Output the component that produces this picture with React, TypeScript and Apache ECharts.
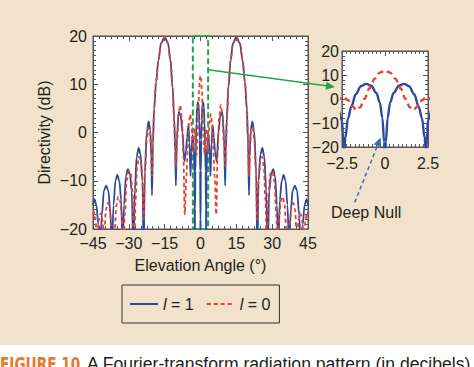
import React, { useEffect, useRef } from "react";
import * as echarts from "echarts";

// Elevation angle (deg) vs directivity (dB)
const patternL1: [number, number][] = [
  [-45, -15], [-44.4, -13.8], [-43.6, -15], [-42.8, -19], [-42, -25], [-41.3, -17], [-40.4, -12], [-39.5, -11],
  [-38.6, -12], [-37.8, -16], [-37.1, -25], [-36.4, -15], [-35.6, -10], [-34.8, -8.8], [-34, -10], [-33.2, -14],
  [-32.6, -25], [-32, -15], [-31.2, -9], [-30.4, -7.6], [-29.6, -8.5], [-28.8, -12], [-28.1, -25], [-27.5, -12],
  [-26.7, -5], [-25.9, -3.2], [-25.1, -4.5], [-24.3, -10], [-23.8, -25], [-23.3, -8], [-22.5, 0], [-21.7, 2.3],
  [-21, 0.5], [-20.6, -5], [-20.3, -13], [-19.9, -2], [-19.4, 5], [-18.6, 10.5], [-17.6, 15], [-16.5, 18.5],
  [-15, 19.8], [-13.6, 18.5], [-12.6, 15], [-11.7, 9.5], [-11, 3], [-10.6, -4], [-10.3, -11], [-9.9, -1],
  [-9.1, 4.3], [-8.3, 3.5], [-7.5, 0], [-6.8, -6], [-6.1, -4], [-5.6, -1], [-5.1, 1.5], [-4.6, -2],
  [-4.2, -9], [-3.8, -4], [-3.3, -0.5], [-2.8, -2.5], [-2.5, -9], [-2.45, -14], [-2.38, -22], [-2.3, -16],
  [-2.15, -8], [-1.95, -3], [-1.7, 2], [-1.4, 5.3], [-1.1, 6.3], [-0.8, 5.5], [-0.5, 2.5], [-0.3, -1.5],
  [-0.15, -8], [-0.05, -18], [0, -30],
  [0.05, -18], [0.15, -8], [0.3, -1.5], [0.5, 2.5], [0.8, 5.5], [1.1, 6.3], [1.4, 5.3], [1.7, 2],
  [1.95, -3], [2.15, -8], [2.3, -16], [2.38, -22], [2.45, -14], [2.5, -9], [2.8, -2.5], [3.3, -0.5],
  [3.8, -4], [4.2, -9], [4.6, -2], [5.1, 1.5], [5.6, -1], [6.1, -4], [6.8, -6], [7.5, 0],
  [8.3, 3.5], [9.1, 4.3], [9.9, -1], [10.3, -11], [10.6, -4], [11, 3], [11.7, 9.5], [12.6, 15],
  [13.6, 18.5], [15, 19.8], [16.5, 18.5], [17.6, 15], [18.6, 10.5], [19.4, 5], [19.9, -2], [20.3, -13],
  [20.6, -5], [21, 0.5], [21.7, 2.3], [22.5, 0], [23.3, -8], [23.8, -25], [24.3, -10], [25.1, -4.5],
  [25.9, -3.2], [26.7, -5], [27.5, -12], [28.1, -25], [28.8, -12], [29.6, -8.5], [30.4, -7.6], [31.2, -9],
  [32, -15], [32.6, -25], [33.2, -14], [34, -10], [34.8, -8.8], [35.6, -10], [36.4, -15], [37.1, -25],
  [37.8, -16], [38.6, -12], [39.5, -11], [40.4, -12], [41.3, -17], [42, -25], [42.8, -19], [43.6, -15],
  [44.4, -13.8], [45, -15],
];

const patternL0: [number, number][] = [
  [-45, -17], [-44.6, -16.5], [-44, -18], [-43.2, -23], [-42.5, -18], [-41.8, -16.7], [-41.1, -18], [-40.3, -22],
  [-39.6, -16], [-38.9, -14.6], [-38.2, -15], [-37.5, -18], [-36.8, -25], [-36, -21], [-35.2, -15], [-34.4, -13.3],
  [-33.7, -14], [-33, -17], [-32.3, -25], [-31.7, -17], [-30.9, -10], [-30.1, -8], [-29.3, -8.5], [-28.5, -12],
  [-27.7, -25], [-27.2, -14], [-26.5, -7], [-25.8, -5], [-25.2, -5.5], [-24.4, -9], [-23.7, -18], [-23.2, -8],
  [-22.5, -1.5], [-21.8, 1], [-21.2, 0.5], [-20.7, -3], [-20.3, -9], [-19.9, -1], [-19.4, 5], [-18.6, 10.5],
  [-17.6, 15], [-16.5, 18.5], [-15, 19.8], [-13.6, 18.5], [-12.6, 15], [-11.7, 9.5], [-11, 2], [-10.6, -3],
  [-10.3, -7], [-9.8, -2], [-9.2, 3.5], [-8.5, 5.7], [-7.8, 3], [-7.2, -4], [-6.6, -17], [-5.9, -9],
  [-5.3, -3], [-4.8, 2], [-4.3, 3.8], [-3.8, 2], [-3.3, -2], [-3, -4], [-2.65, 0], [-2.4, 0.8],
  [-2.15, -0.5], [-1.9, -3], [-1.65, -4.6], [-1.45, -3.5], [-1.2, 0], [-0.9, 4.5], [-0.6, 8.5], [-0.3, 11],
  [0, 11.8],
  [0.3, 11], [0.6, 8.5], [0.9, 4.5], [1.2, 0], [1.45, -3.5], [1.65, -4.6], [1.9, -3], [2.15, -0.5],
  [2.4, 0.8], [2.65, 0], [3, -4], [3.3, -2], [3.8, 2], [4.3, 3.8], [4.8, 2], [5.3, -3],
  [5.9, -9], [6.6, -17], [7.2, -4], [7.8, 3], [8.5, 5.7], [9.2, 3.5], [9.8, -2], [10.3, -7],
  [10.6, -3], [11, 2], [11.7, 9.5], [12.6, 15], [13.6, 18.5], [15, 19.8], [16.5, 18.5], [17.6, 15],
  [18.6, 10.5], [19.4, 5], [19.9, -1], [20.3, -9], [20.7, -3], [21.2, 0.5], [21.8, 1], [22.5, -1.5],
  [23.2, -8], [23.7, -18], [24.4, -9], [25.2, -5.5], [25.8, -5], [26.5, -7], [27.2, -14], [27.7, -25],
  [28.5, -12], [29.3, -8.5], [30.1, -8], [30.9, -10], [31.7, -17], [32.3, -25], [33, -17], [33.7, -14],
  [34.4, -13.3], [35.2, -15], [36, -21], [36.8, -25], [37.5, -18], [38.2, -15], [38.9, -14.6], [39.6, -16],
  [40.3, -22], [41.1, -18], [41.8, -16.7], [42.5, -18], [43.2, -23], [44, -18], [44.6, -16.5], [45, -17],
];

const mainXTicks = { min: -45, max: 45, interval: 15 };
const mainYTicks = { min: -20, max: 20, interval: 10 };
const insetXTicks = { min: -2.5, max: 2.5, interval: 2.5 };
const zoomBox = [-3.2, 3.2];
const seriesNames = ["l1", "l0"];
const legendLabels = ["{i|l} = 1", "{i|l} = 0"];

const BLUE = "#2c4a9c";
const RED = "#e8402c";
const GREEN = "#1fa64a";
const TXT = "#231f20";
const FRAME = "#555";
const FONT = "Liberation Sans, Arial, Helvetica, sans-serif";

const fmt = (v: number) => String(v).replace("-", "\u2212");

function axis(gridIndex: number, position: string, range: any, labels: boolean, minor: number, extra: any = {}) {
  return {
    type: "value",
    gridIndex,
    position,
    ...range,
    axisLine: { show: true, onZero: false, lineStyle: { color: FRAME, width: 1 } },
    axisTick: { show: true, inside: true, length: 5, lineStyle: { color: FRAME } },
    minorTick: { show: true, splitNumber: minor, length: 3, lineStyle: { color: FRAME } },
    splitLine: { show: false },
    axisLabel: labels
      ? { show: true, fontSize: 16, color: TXT, fontFamily: FONT, formatter: fmt }
      : { show: false },
    ...extra,
  };
}

export default function App() {
  const ref = useRef<HTMLDivElement>(null);
  useEffect(() => {
    if (!ref.current) return;
    const chart = echarts.init(ref.current, null, { renderer: "svg" });
    const option: any = {
      animation: false,
      backgroundColor: "#f2e2cb",
      textStyle: { fontFamily: FONT },
      grid: [
        { left: 93, top: 36, width: 215, height: 193, show: true, backgroundColor: "#fff", borderColor: FRAME, borderWidth: 1 },
        { left: 342, top: 51, width: 86, height: 96, show: true, backgroundColor: "#fff", borderColor: FRAME, borderWidth: 1 },
      ],
      xAxis: [
        axis(0, "bottom", mainXTicks, true, 6, {
          name: "Elevation Angle (\u00b0)", nameLocation: "middle", nameGap: 28,
          nameTextStyle: { fontSize: 16, color: TXT, fontFamily: FONT },
          axisLabel: { show: true, fontSize: 16, color: TXT, fontFamily: FONT, formatter: fmt, margin: 6 },
        }),
        axis(0, "top", mainXTicks, false, 6),
        axis(1, "bottom", insetXTicks, true, 10, {
          axisLabel: { show: true, fontSize: 16, color: TXT, fontFamily: FONT, formatter: fmt, margin: 8 },
        }),
        axis(1, "top", insetXTicks, false, 10),
      ],
      yAxis: [
        axis(0, "left", mainYTicks, true, 10, {
          name: "Directivity (dB)", nameLocation: "middle", nameGap: 41,
          nameTextStyle: { fontSize: 16, color: TXT, fontFamily: FONT },
          axisLabel: { show: true, fontSize: 16, color: TXT, fontFamily: FONT, formatter: fmt, margin: 6 },
        }),
        axis(0, "right", mainYTicks, false, 10),
        axis(1, "left", mainYTicks, true, 5, {
          axisLabel: { show: true, fontSize: 16, color: TXT, fontFamily: FONT, formatter: fmt, margin: 3 },
        }),
        axis(1, "right", mainYTicks, false, 5),
      ],
      legend: {
        left: 122, top: 285,
        data: seriesNames,
        formatter: (n: string) => legendLabels[seriesNames.indexOf(n)],
        borderColor: "#333", borderWidth: 1, borderRadius: 0,
        padding: [11, 9, 11, 7],
        itemWidth: 28, itemHeight: 12, itemGap: 12,
        itemStyle: { color: "rgba(0,0,0,0)", borderColor: "rgba(0,0,0,0)", borderWidth: 0, opacity: 0 },
        textStyle: { fontSize: 16, color: TXT, fontFamily: FONT, rich: { i: { fontStyle: "italic", fontSize: 16, color: TXT, fontFamily: FONT } } },
      },
      series: [
        {
          type: "line", name: "l1", xAxisIndex: 0, yAxisIndex: 0, data: patternL1,
          showSymbol: false, symbol: "none", smooth: 0.35, smoothMonotone: "x", clip: true,
          color: BLUE, lineStyle: { color: BLUE, width: 1.8 },
          markArea: {
            silent: true,
            itemStyle: { color: "rgba(0,0,0,0)", borderColor: GREEN, borderWidth: 2, borderType: [6, 3] },
            data: [[{ xAxis: zoomBox[0], yAxis: -20 }, { xAxis: zoomBox[1], yAxis: 20 }]],
          },
        },
        {
          type: "line", name: "l0", xAxisIndex: 0, yAxisIndex: 0, data: patternL0,
          showSymbol: false, symbol: "none", smooth: 0.35, smoothMonotone: "x", clip: true,
          color: RED, lineStyle: { color: RED, width: 1.8, type: [4, 3] },
        },
        {
          type: "line", name: "l1", xAxisIndex: 2, yAxisIndex: 2, data: patternL1,
          showSymbol: false, symbol: "none", smooth: 0.35, smoothMonotone: "x", clip: true,
          color: BLUE, lineStyle: { color: BLUE, width: 2.4 },
        },
        {
          type: "line", name: "l0", xAxisIndex: 2, yAxisIndex: 2, data: patternL0,
          showSymbol: false, symbol: "none", smooth: 0.35, smoothMonotone: "x", clip: true,
          color: RED, lineStyle: { color: RED, width: 2.4, type: [6, 4] },
        },
      ],
    };
    chart.setOption(option);

    const head = (tip: number[], from: number[], len: number, hw: number) => {
      const dx = tip[0] - from[0], dy = tip[1] - from[1];
      const d = Math.hypot(dx, dy) || 1;
      const ux = dx / d, uy = dy / d;
      const bx = tip[0] - ux * len, by = tip[1] - uy * len;
      return [[tip[0], tip[1]], [bx - uy * hw, by + ux * hw], [bx + uy * hw, by - ux * hw]];
    };

    const g0 = chart.convertToPixel({ gridIndex: 0 } as any, [zoomBox[1], 13]) as number[];
    const g1raw = chart.convertToPixel({ gridIndex: 1 } as any, [-2.5, 5]) as number[];
    const g1 = [g1raw[0] - 7, g1raw[1]];
    const n1 = chart.convertToPixel({ gridIndex: 1 } as any, [-0.25, -16]) as number[];
    const n0 = [n1[0] - 26, n1[1] + 65];

    chart.setOption({
      graphic: [
        { type: "rect", shape: { x: 0, y: 345, width: 474, height: 30 }, style: { fill: "#fff" }, z: 0 },
        { type: "line", shape: { x1: g0[0], y1: g0[1], x2: g1[0] - 5, y2: g1[1] - 0.7 }, style: { stroke: GREEN, lineWidth: 1.5 }, z: 10 },
        { type: "polygon", shape: { points: head(g1, g0, 9, 4) }, style: { fill: GREEN }, z: 10 },
        { type: "line", shape: { x1: n0[0], y1: n0[1], x2: n1[0] - 2, y2: n1[1] + 5 }, style: { stroke: "#3d6bb5", lineWidth: 1.5, lineDash: [4, 3] }, z: 10 },
        { type: "polygon", shape: { points: head(n1, n0, 9, 4) }, style: { fill: "#3d6bb5" }, z: 10 },
        { type: "text", x: 331, y: 204, style: { text: "Deep Null", fontSize: 16, fill: TXT, fontFamily: FONT }, z: 10 },
        { type: "text", x: 0, y: 355, scaleX: 0.8, style: { text: "FIGURE 10.", fontSize: 19, fontWeight: "bold", fill: "#e8782a", fontFamily: "Liberation Sans Narrow, DejaVu Sans Condensed, Arial Narrow, sans-serif" }, z: 10 },
        { type: "text", x: 87, y: 355, style: { text: "A Fourier-transform radiation pattern (in decibels)", fontSize: 17.6, fill: TXT, fontFamily: FONT }, z: 10 },
      ],
    });
    return () => chart.dispose();
  }, []);
  return <div ref={ref} style={{ position: "fixed", left: 0, top: 0, width: 474, height: 367 }} />;
}
